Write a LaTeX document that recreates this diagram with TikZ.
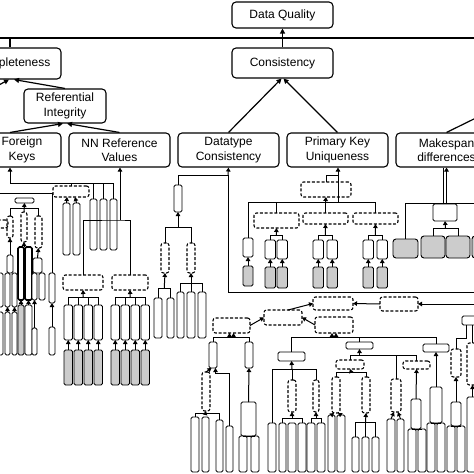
\documentclass[tikz,border=0pt]{standalone}
\usepackage{fontspec}
\setmainfont{Liberation Sans}
\usetikzlibrary{arrows.meta,calc}
\newcommand\bx[6][sb]{%
  \pgfmathsetmacro\bxw{(#5)-(#3)}%
  \pgfmathsetmacro\bxh{(#6)-(#4)}%
  \node[#1,minimum width=\bxw pt,minimum height=\bxh pt,anchor=north west] (#2) at (#3,#4) {};%
}
\begin{document}
\begin{tikzpicture}[x=1pt,y=-1pt,line width=1pt,
  mainbox/.style={draw,rounded corners=4pt,line width=1.1pt,minimum width=101pt,minimum height=34pt,align=center,font=\fontsize{12}{14.5}\selectfont,inner sep=0pt,fill=white},
  sb/.style={draw,fill=white,rounded corners=1.5pt,line width=0.9pt,inner sep=0pt,outer sep=0pt},
  gb/.style={sb,fill=black!20},
  tb/.style={sb,line width=1.6pt},
  db/.style={draw,dash pattern=on 3pt off 1.8pt,rounded corners=2.5pt,line width=1.05pt,inner sep=0pt,outer sep=0pt},
  arr/.style={-{Triangle[length=4pt,width=4.5pt]}},
  bigarr/.style={line width=1.2pt,-{Triangle[length=5pt,width=5pt]}}]
\useasboundingbox (0,0) rectangle (474,474);
\fill[white] (0,0) rectangle (474,474);

% ---------- main nodes ----------
\node[mainbox,minimum height=26pt] (dq) at (282.5,15) {Data Quality};
\node[mainbox,minimum height=30pt] (cons) at (282.5,63) {Consistency};
\node[mainbox,minimum width=98pt,minimum height=31pt] (comp) at (12,63.5) {Completeness};
\node[mainbox,minimum width=82pt] (ri) at (65,106) {Referential\\Integrity};
\node[mainbox,minimum width=78pt] (fk) at (22,150) {Foreign\\Keys};
\node[mainbox] (nn) at (119.5,150) {NN Reference\\Values};
\node[mainbox] (dc) at (228.5,150) {Datatype\\Consistency};
\node[mainbox] (pku) at (337.5,150) {Primary Key\\Uniqueness};
\node[mainbox] (ms) at (446.5,150) {Makespan\\differences};

\coordinate (tl) at (-5,38); \coordinate (tr) at (480,38);
\draw[line width=1.2pt] (tl) -- (tr);
\coordinate (tk) at (10,38);
\draw[line width=1.2pt] (tk) -- (tk |- comp.north);
\draw[bigarr] (cons.north) -- (dq.south);
\coordinate (cin) at (-3,86);
\draw[bigarr] (cin) -- ([xshift=-3pt]comp.south);
\draw[bigarr] (ri.north) -- ([xshift=2pt]comp.south);
\draw[bigarr] ([xshift=-12pt]fk.north) -- ([xshift=-2pt]ri.south);
\draw[bigarr] (nn.north) -- ([xshift=2pt]ri.south);
\draw[bigarr] (dc.north) -- ([xshift=-1pt]cons.south);
\draw[bigarr] (pku.north) -- ([xshift=1pt]cons.south);
\coordinate (msout) at (480,116);
\draw[line width=1.2pt] (ms.north) -- (msout);

% ---------- left column ----------
\coordinate (lj) at (-5,193);
\bx{Lh1}{49}{273}{55}{303}
\bx{Lh2}{49}{327}{55}{355}
\draw (lj) -| (Lh1.north);
\draw[arr] (Lh2.north) -- (Lh1.south);
\bx{L1}{15}{198}{34}{203}
\bx[db]{Ld0}{-6}{220}{8}{228}
\bx[db]{Ld1}{7}{216}{13}{238}
\bx[db]{Ld2}{21}{212}{27}{242}
\bx[db]{Ld3}{35}{216}{42}{248}
\draw (Ld1.north) -- ++(0,-8) -| (Ld3.north);
\draw[arr] (Ld2.north) -- (L1.south);
\bx{La}{7}{255}{13}{273}
\bx[tb]{Lt1}{18}{247}{24}{300}
\bx[tb]{Lt2}{25}{247}{32}{300}
\bx{Lb}{33}{258}{42}{273}
\draw[arr] (La.north) -- (Ld1.south);
\draw[arr] (Lt1.north east) -- (Ld2.south);
\draw[arr] (Lb.north) -- (Ld3.south);
\bx{Lc1}{-3}{273}{3}{307}
\bx{Lc2}{5}{273}{10}{307}
\bx{Lc3}{12}{273}{17}{307}
\bx{Lc4}{32}{273}{37}{300}
\bx{Lc5}{39}{273}{45}{300}
\bx{Le1}{-3}{312}{3}{355}
\bx{Le2}{5}{312}{10}{355}
\bx{Le3}{12}{312}{17}{355}
\draw[arr] (Le2.north) -- (Lc2.south);
\draw[arr] (Le3.north) -- (Lc3.south);
\bx[gb]{Lf1}{18}{305}{24}{355}
\bx{Lf2}{25}{305}{32}{355}
\draw[arr] (Lf1.north) -- (Lt1.south);
\draw[arr] (Lf2.north) -- (Lt2.south);
\bx{Lg}{32}{328}{37}{355}
\draw[arr] (Lg.north) -- (Lc4.south);

% ---------- FK / NN area ----------
\bx[db]{M1}{53}{186}{89}{197}
\bx{M2}{63}{203}{70}{255}
\bx{M3}{73}{203}{80}{255}
\bx{M4}{90}{199}{97}{250}
\bx{M5}{100}{199}{107}{250}
\bx{M6}{110}{199}{117}{250}
\coordinate (fkj) at (10,183);
\draw[arr] (fkj) -- (fkj |- fk.south);
\draw (fkj) -| (M6.north);
\draw (M4.north) -- (M4.north |- fkj);
\draw (M5.north) -- (M5.north |- fkj);
\draw (M1.north) -- (M1.north |- fkj);
\draw[arr] (M2.north) -- ([xshift=-4pt]M1.south);
\draw[arr] (M3.north) -- ([xshift=4pt]M1.south);

\coordinate (nnj) at (120,220);
\draw[arr] (nnj) -- (nnj |- nn.south);
\bx[db]{N1}{63}{275}{103}{290}
\bx[db]{N2}{112}{275}{148}{290}
\draw (N1.north) |- (nnj) -| (N2.north);
\foreach \i/\x in {1/64,2/74,3/84,4/94,5/111,6/121,7/131,8/141}{
  \bx{W\i}{\x}{305}{\x+8.5}{340}
  \bx[gb]{G\i}{\x}{350}{\x+8.5}{385}
  \draw[arr] (G\i.north) -- (W\i.south);
}
\draw (W1.north) -- ++(0,-8) -| (W4.north);
\draw (W2.north) -- ++(0,-8); \draw (W3.north) -- ++(0,-8);
\draw[arr] ($(W2.north)!0.5!(W3.north)+(0,-8)$) -- (N1.south);
\draw (W5.north) -- ++(0,-8) -| (W8.north);
\draw (W6.north) -- ++(0,-8); \draw (W7.north) -- ++(0,-8);
\draw[arr] ($(W6.north)!0.5!(W7.north)+(0,-8)$) -- (N2.south);

% ---------- Datatype area ----------
\bx{D1}{174}{185}{182}{212}
\bx[db]{Dd1}{161}{243}{169}{273}
\bx[db]{Dd2}{187}{243}{195}{273}
\bx{D2}{154}{298}{162}{338}
\bx{D3}{167}{298}{174}{338}
\bx{D4}{177}{292}{184}{338}
\bx{D5}{187}{292}{195}{338}
\bx{D6}{198}{292}{206}{338}
\coordinate (dcj) at (228,175);
\coordinate (rl) at (480,292);
\draw (D1.north) |- (dcj);
\draw[arr] (dcj) -- (dc.south);
\draw (dcj) |- (rl);
\draw (Dd1.north) -- ++(0,-16) -| (Dd2.north);
\draw[arr] ($(Dd1.north)!0.5!(Dd2.north)+(0,-16)$) -- (D1.south);
\draw (D2.north) -- ++(0,-10) -| (D3.north);
\draw[arr] ($(D2.north)!0.5!(D3.north)+(0,-10)$) -- (Dd1.south);
\draw (D4.north) -- ++(0,-9) -| (D6.north);
\draw (D5.north) -- ++(0,-9);
\draw[arr] ($(D5.north)+(0,-9)$) -- (Dd2.south);

% ---------- PKU area ----------
\bx[db]{P0}{301}{182}{351}{197}
\bx{P1}{243}{238}{253}{257}
\bx[gb]{P1g}{243}{266}{253}{286}
\draw[arr] (P1g.north) -- (P1.south);
\bx[db]{Pd1}{254}{213}{299}{228}
\bx[db]{Pd2}{303}{213}{348}{224}
\bx[db]{Pd3}{353}{213}{398}{224}
\foreach \n/\x in {2/265,3/277,4/313,5/327,6/363,7/377}{
  \bx{P\n}{\x}{240}{\x+10.5}{259}
  \bx[gb]{Q\n}{\x}{267}{\x+10.5}{288}
  \draw[arr] (Q\n.north) -- (P\n.south);
}
\draw (P1.north) -- ++(0,-36) -| (Pd3.north);
\draw (Pd1.north) -- ++(0,-11);
\draw (Pd2.north) -- ++(0,-11);
\draw[arr] ($(Pd2.north)+(0,-11)$) -- (P0.south);
\coordinate (pkj) at (338,175);
\draw (P0.north) |- (pkj);
\draw[arr] (pkj) -- (pkj |- pku.south);
\draw (pkj) -- ++(0,27);
\draw (P2.north) -- ++(0,-5) -| (P3.north);
\draw[arr] ($(P2.north)!0.5!(P3.north)+(0,-5)$) -- (Pd1.south);
\draw (P4.north) -- ++(0,-5) -| (P5.north);
\draw[arr] ($(P4.north)!0.5!(P5.north)+(0,-5)$) -- (Pd2.south);
\draw (P6.north) -- ++(0,-5) -| (P7.north);
\draw[arr] ($(P6.north)!0.5!(P7.north)+(0,-5)$) -- (Pd3.south);

% ---------- Makespan area ----------
\bx{K1}{433}{204}{457}{221}
\bx[gb,rounded corners=3pt]{Kg0}{393}{239}{418}{258}
\bx[gb,rounded corners=3pt]{Kg1}{421}{236}{445}{258}
\bx[gb,rounded corners=3pt]{Kg2}{446}{236}{470}{258}
\bx[gb,rounded corners=3pt]{Kg3}{472}{236}{497}{258}
\coordinate (mr) at (480,203);
\draw (Kg0.north) |- (mr);
\draw ([xshift=-3pt]ms.south) -- ++(0,36);
\draw[arr] ($(ms.south)+(0,36)$) -- (ms.south);
\draw (Kg1.north) -- ++(0,-8) -| (Kg2.north);
\draw[arr] ($(Kg1.north)!0.5!(Kg2.north)+(0,-8)$) -- (K1.south);

% ---------- middle band ----------
\bx[db]{R1}{380}{297}{418}{311}
\bx[db]{R2}{313}{297}{353}{310}
\bx[db]{R3}{264}{310}{302}{325}
\bx[db]{R4}{213}{318}{250}{333}
\bx[db]{R5}{315}{317}{353}{333}
\coordinate (rin) at (480,304);
\draw[arr] (rin) -- (R1.east);
\draw[arr] (R1.west) -- (R2.east);
\draw[arr] ([xshift=5pt]R3.north) -- (R2.west);
\draw[arr] (R4.east) -- (R3.west);
\draw[arr] (R5.west) -- (R3.east);

\bx{S1}{278}{352}{305}{361}
\bx{S2}{346}{342}{373}{349}
\bx{S3}{423}{344}{449}{352}
\draw (S1.north) -- ++(0,-15) -| (S3.north);
\draw (S2.north) -- ++(0,-5);
\draw[arr] ([xshift=-2pt,yshift=-4.5pt]R5.south) -- ([xshift=-2pt]R5.south);
\draw[arr] ([xshift=2pt,yshift=-4.5pt]R5.south) -- ([xshift=2pt]R5.south);

% S1 subtree
\bx[db]{S1d1}{288}{380}{296}{412}
\bx[db]{S1d2}{313}{380}{319}{412}
\bx{S1a}{268}{423}{276}{472}
\draw (S1a.north) -- ++(0,-54) -| (S1d2.north);
\draw (S1d1.north) -- ++(0,-11);
\draw[arr] ($(S1d1.north)+(0,-11)$) -- (S1.south);
\bx{B1}{279}{423}{286}{472}
\bx{B2}{288}{423}{296}{472}
\bx{B3}{298}{423}{306}{472}
\draw (B1.north) -- ++(0,-5) -| (B3.north);
\draw[arr] ($(B2.north)+(0,-5)$) -- (S1d1.south);
\bx{B4}{307}{423}{315}{472}
\bx{B5}{317}{423}{325}{472}
\draw (B4.north) -- ++(0,-5) -| (B5.north);
\draw[arr] ($(B4.north)!0.5!(B5.north)+(0,-5)$) -- (S1d2.south);

% S2 subtree
\bx[db]{S2d}{336}{360}{364}{369}
\bx[db]{S4d}{391}{379}{401}{412}
\bx[db]{S5d}{403}{361}{430}{369}
\draw (S2d.north) -- ++(0,-5) -| (S5d.north);
\draw (S4d.north) -- ++(0,-24);
\draw[arr] ($(S2.south)+(0,6)$) -- (S2.south);
\bx[db]{S2d1}{332}{377}{340}{413}
\bx[db]{S2d2}{362}{377}{370}{413}
\draw (S2d1.north) -- ++(0,-5) -| (S2d2.north);
\draw[arr] ($(S2d1.north)!0.5!(S2d2.north)+(0,-5)$) -- (S2d.south);
\bx{C1}{328}{415}{335}{472}
\bx{C2}{337}{415}{345}{472}
\draw[arr] (C1.north) -- ([xshift=-2pt]S2d1.south);
\draw[arr] (C2.north) -- ([xshift=2pt]S2d1.south);
\bx{C3}{352}{437}{359}{472}
\bx{C4}{362}{437}{369}{472}
\bx{C5}{372}{437}{379}{472}
\draw (C3.north) -- ++(0,-15) -| (C5.north);
\draw (C4.north) -- ++(0,-15);
\draw[arr] ($(C4.north)+(0,-15)$) -- (S2d2.south);
\bx{C6}{387}{419}{395}{472}
\bx{C7}{397}{419}{404}{472}
\draw[arr] (C6.north) -- ([xshift=-2pt]S4d.south);
\draw[arr] (C7.north) -- ([xshift=2pt]S4d.south);
\bx{S5a}{411}{399}{421}{429}
\draw[arr] (S5a.north) -- (S5d.south);
\bx{C8}{408}{429}{416}{472}
\bx{C9}{418}{429}{426}{472}
\draw (C8.north) -- (C9.north);
\bx{S3a}{430}{387}{442}{423}
\draw[arr] (S3a.north) -- (S3.south);
\bx{C10}{427}{423}{435}{472}
\bx{C11}{437}{423}{445}{472}
\draw (C10.north) -- (C11.north);

% right edge
\bx{T1}{462}{316}{480}{325}
\bx[db]{T2}{451}{349}{461}{377}
\draw (T2.north) -- ++(0,-11) -| ([xshift=-5pt]T1.south);
\bx{T3}{451}{402}{461}{426}
\draw[arr] (T3.north) -- (T2.south);
\bx{C12}{447}{426}{455}{472}
\bx{C13}{457}{426}{465}{472}
\draw (C12.north) -- (C13.north);
\bx[db]{T4}{467}{343}{478}{385}
\draw (T4.north) -- ++(0,-18);
\bx{T5}{467}{397}{478}{472}
\draw[arr] (T5.north) -- (T4.south);

% lower-left middle
\bx{U1}{209}{342}{217}{368}
\bx{U2}{245}{342}{253}{368}
\draw (U1.north) -- ++(0,-5) -| (U2.north);
\draw[arr] ([xshift=-2pt,yshift=-4.5pt]R4.south) -- ([xshift=-2pt]R4.south);
\draw[arr] ([xshift=2pt,yshift=-4.5pt]R4.south) -- ([xshift=2pt]R4.south);
\bx[db]{Ud}{202}{372}{210}{411}
\draw[arr] (Ud.north) -- ([xshift=-1.5pt]U1.south);
\bx{Ub1}{191}{417}{199}{472}
\bx{Ub2}{202}{417}{209}{472}
\bx{Ub3}{216}{420}{223}{472}
\bx{Ub4}{226}{426}{233}{472}
\draw[arr] (Ub4.north) -- ++(0,-53) -| ([xshift=2.5pt]U1.south);
\draw (Ub1.north) -- ++(0,-4) -| (Ub3.north);
\draw[arr] ($(Ub2.north)+(0,-4)$) -- (Ud.south);
\bx{U2a}{241}{402}{256}{436}
\draw[arr] (U2a.north) -- (U2.south);
\bx{Ub5}{239}{436}{247}{472}
\bx{Ub6}{251}{436}{259}{472}
\draw (Ub5.north) -- (Ub6.north);
\end{tikzpicture}
\end{document}
